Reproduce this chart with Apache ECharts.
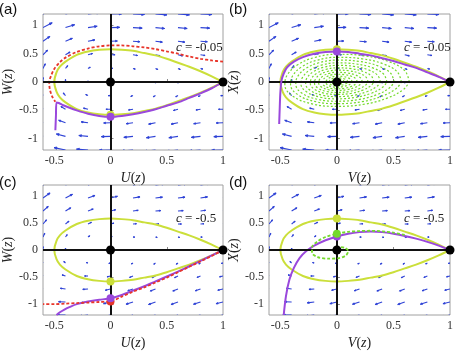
<!DOCTYPE html>
<html>
<head>
<meta charset="utf-8">
<title>Phase planes</title>
<script src="https://cdn.jsdelivr.net/npm/echarts@6/dist/echarts.min.js"></script>
<style>
    html, body { margin: 0; background: #fff; }
    #main { width: 474px; height: 351px; }
</style>
</head>
<body>
<div id="main"></div>
<script type="text/javascript">
// quiver grid (columns / rows) and the vertical component read per grid point
var qU = [-0.6, -0.4, -0.2, 0, 0.2, 0.4, 0.6, 0.8, 1.0];
var qW = [1.2, 0.96, 0.72, 0.48, 0.24, 0, -0.24, -0.48, -0.72, -0.96, -1.2];
// c = -0.05 field (panels a, b)
var flowSmall = [
    [1.02, 0.62, 0.30, 0.06, -0.10, -0.18, -0.18, -0.10, 0.06],
    [1.01, 0.61, 0.29, 0.05, -0.11, -0.19, -0.19, -0.11, 0.05],
    [1.00, 0.60, 0.28, 0.04, -0.12, -0.20, -0.20, -0.12, 0.04],
    [0.98, 0.58, 0.26, 0.02, -0.14, -0.22, -0.22, -0.14, 0.02],
    [0.97, 0.57, 0.25, 0.01, -0.15, -0.23, -0.23, -0.15, 0.01],
    [0.96, 0.56, 0.24, 0.00, -0.16, -0.24, -0.24, -0.16, 0.00],
    [0.95, 0.55, 0.23, -0.01, -0.17, -0.25, -0.25, -0.17, -0.01],
    [0.94, 0.54, 0.22, -0.02, -0.18, -0.26, -0.26, -0.18, -0.02],
    [0.92, 0.52, 0.20, -0.04, -0.20, -0.28, -0.28, -0.20, -0.04],
    [0.91, 0.51, 0.19, -0.05, -0.21, -0.29, -0.29, -0.21, -0.05],
    [0.90, 0.50, 0.18, -0.06, -0.22, -0.30, -0.30, -0.22, -0.06]
];
// c = -0.5 field (panels c, d)
var flowLarge = [
    [1.56, 1.16, 0.84, 0.60, 0.44, 0.36, 0.36, 0.44, 0.60],
    [1.44, 1.04, 0.72, 0.48, 0.32, 0.24, 0.24, 0.32, 0.48],
    [1.32, 0.92, 0.60, 0.36, 0.20, 0.12, 0.12, 0.20, 0.36],
    [1.20, 0.80, 0.48, 0.24, 0.08, 0.00, 0.00, 0.08, 0.24],
    [1.08, 0.68, 0.36, 0.12, -0.04, -0.12, -0.12, -0.04, 0.12],
    [0.96, 0.56, 0.24, 0.00, -0.16, -0.24, -0.24, -0.16, 0.00],
    [0.84, 0.44, 0.12, -0.12, -0.28, -0.36, -0.36, -0.28, -0.12],
    [0.72, 0.32, 0.00, -0.24, -0.40, -0.48, -0.48, -0.40, -0.24],
    [0.60, 0.20, -0.12, -0.36, -0.52, -0.60, -0.60, -0.52, -0.36],
    [0.48, 0.08, -0.24, -0.48, -0.64, -0.72, -0.72, -0.64, -0.48],
    [0.36, -0.04, -0.36, -0.60, -0.76, -0.84, -0.84, -0.76, -0.60]
];

// yellow closed loop (same in every panel)
var loopU = [1, 0.9, 0.8, 0.7, 0.6, 0.5, 0.4, 0.3, 0.2, 0.1, 0, -0.1, -0.2, -0.3, -0.4, -0.45, -0.48, -0.5,
             -0.48, -0.45, -0.4, -0.3, -0.2, -0.1, 0, 0.1, 0.2, 0.3, 0.4, 0.5, 0.6, 0.7, 0.8, 0.9, 1];
var loopW = [0, 0.1, 0.19, 0.27, 0.34, 0.41, 0.47, 0.51, 0.55, 0.57, 0.58, 0.57, 0.54, 0.48, 0.36, 0.27, 0.17, 0,
             -0.17, -0.27, -0.36, -0.48, -0.54, -0.57, -0.58, -0.57, -0.55, -0.51, -0.47, -0.41, -0.34, -0.27, -0.19, -0.1, 0];

// panel (a)
var redAU = [1.0, 0.9, 0.8, 0.7, 0.6, 0.5, 0.4, 0.3, 0.2, 0.1, 0, -0.1, -0.2, -0.3, -0.4, -0.45, -0.5, -0.53, -0.545, -0.54, -0.52, -0.49];
var redAW = [0.36, 0.38, 0.41, 0.45, 0.5, 0.54, 0.58, 0.61, 0.63, 0.645, 0.645, 0.63, 0.59, 0.53, 0.43, 0.35, 0.23, 0.1, 0, -0.12, -0.25, -0.35];
var purAU = [1.0, 0.9, 0.8, 0.7, 0.6, 0.5, 0.4, 0.3, 0.2, 0.1, 0, -0.1, -0.2, -0.3, -0.37, -0.42, -0.46, -0.48, -0.485, -0.49];
var purAW = [0, -0.11, -0.2, -0.28, -0.36, -0.42, -0.48, -0.53, -0.57, -0.6, -0.615, -0.6, -0.56, -0.5, -0.45, -0.41, -0.37, -0.36, -0.6, -0.85];

// panel (b)
var purBV = [1, 0.9, 0.8, 0.7, 0.6, 0.5, 0.4, 0.3, 0.2, 0.1, 0, -0.1, -0.2, -0.3, -0.38, -0.44, -0.47, -0.49, -0.5, -0.505, -0.51];
var purBX = [0, 0.09, 0.17, 0.25, 0.31, 0.37, 0.42, 0.47, 0.5, 0.53, 0.54, 0.53, 0.5, 0.44, 0.36, 0.26, 0.15, 0.02, -0.2, -0.45, -0.74];
var spiralV = [0.64, 0.6, 0.46, 0.25, 0, -0.2, -0.35, -0.44, -0.46, -0.39, -0.21, 0, 0.25, 0.45, 0.59, 0.64];
var spiralX = [0, 0.2, 0.36, 0.46, 0.49, 0.43, 0.3, 0.12, -0.05, -0.25, -0.39, -0.43, -0.39, -0.28, -0.13, 0];
var spiralTurns = [1, 0.89, 0.79, 0.69, 0.6, 0.51, 0.43, 0.35, 0.28, 0.21, 0.15, 0.1, 0.06];

// panel (c)
var redCU = [1, 0.9, 0.8, 0.7, 0.6, 0.5, 0.4, 0.3, 0.2, 0.1, 0, -0.1, -0.2, -0.3, -0.4, -0.5, -0.6];
var redCW = [0, -0.11, -0.21, -0.31, -0.41, -0.51, -0.6, -0.69, -0.77, -0.86, -0.95, -0.96, -0.97, -0.98, -0.99, -1.0, -1.0];
var purCU = [1, 0.9, 0.8, 0.7, 0.6, 0.5, 0.4, 0.3, 0.2, 0.1, 0, -0.1, -0.2, -0.3, -0.36, -0.41, -0.45, -0.48];
var purCW = [0, -0.1, -0.2, -0.3, -0.4, -0.49, -0.58, -0.67, -0.75, -0.83, -0.89, -0.92, -0.95, -1.0, -1.05, -1.1, -1.15, -1.2];

// panel (d)
var purDV = [1, 0.9, 0.8, 0.7, 0.6, 0.5, 0.4, 0.3, 0.2, 0.1, 0, -0.1, -0.2, -0.27, -0.33, -0.38, -0.42, -0.45, -0.47];
var purDX = [0, 0.08, 0.15, 0.21, 0.26, 0.3, 0.33, 0.34, 0.33, 0.3, 0.25, 0.18, 0.08, -0.02, -0.15, -0.33, -0.55, -0.85, -1.2];
var grnDV = [0.6, 0.5, 0.4, 0.3, 0.2, 0.1, 0, -0.1, -0.17, -0.22, -0.22, -0.17, -0.08, 0.02, 0.08, 0.1, 0.07, 0.01];
var grnDX = [0.28, 0.32, 0.345, 0.355, 0.35, 0.335, 0.3, 0.24, 0.16, 0.05, -0.05, -0.13, -0.16, -0.15, -0.1, -0.02, 0.04, 0.06];

// fixed points and marked points per panel
var eqU = [0, 1], eqW = [0, 0];
var dotA = {yellow: [0, -0.58], purple: [0, -0.615]};
var dotB = {yellow: [0, 0.58], purple: [0, 0.54]};
var dotC = {yellow: [0, -0.58], purple: [0, -0.89], red: [0, -0.95]};
var dotD = {yellow: [0, 0.58], green: [0, 0.3], purple: [0, 0.25]};

var cLabels = ['-0.05', '-0.05', '-0.5', '-0.5'];
var panelTags = ['(a)', '(b)', '(c)', '(d)'];
var xNames = ['U', 'V', 'U', 'V'];
var yNames = ['W', 'X', 'W', 'X'];

var BLUE = '#2f43d6', YELLOW = '#cbdf3a', PURPLE = '#9a48dc', RED = '#e8352a', GREEN = '#74da2c';
var SERIF = '"Liberation Serif", "DejaVu Serif", serif';

function zip(a, b) {
    var out = [];
    for (var i = 0; i < a.length; i++) out.push([a[i], b[i]]);
    return out;
}
function quiverData(field) {
    var d = [];
    for (var i = 0; i < qW.length; i++) {
        for (var j = 0; j < qU.length; j++) {
            d.push([qU[j], qW[i], qW[i], field[i][j]]);
        }
    }
    return d;
}
function arrowRenderer(scale) {
    return function (params, api) {
        var x = api.value(0), y = api.value(1);
        var p0 = api.coord([x, y]);
        var p1 = api.coord([x + scale * api.value(2), y + scale * api.value(3)]);
        var dx = p1[0] - p0[0], dy = p1[1] - p0[1];
        var len = Math.sqrt(dx * dx + dy * dy);
        if (len < 0.8) {
            return {type: 'circle', shape: {cx: p0[0], cy: p0[1], r: 0.5}, style: {fill: BLUE}};
        }
        var ang = Math.atan2(dy, dx), h = Math.min(3, Math.max(1.2, len * 0.3));
        var a1 = ang + Math.PI - 0.4, a2 = ang + Math.PI + 0.4;
        return {
            type: 'group',
            children: [
                {type: 'line', shape: {x1: p0[0], y1: p0[1], x2: p1[0], y2: p1[1]},
                 style: {stroke: BLUE, lineWidth: 1.1}},
                {type: 'polygon', shape: {points: [
                    [p1[0] + h * Math.cos(a1), p1[1] + h * Math.sin(a1)], p1,
                    [p1[0] + h * Math.cos(a2), p1[1] + h * Math.sin(a2)]]},
                 style: {stroke: BLUE, fill: BLUE, lineWidth: 0.8}}
            ]
        };
    };
}

var gridPos = [
    {left: 41, top: 14, width: 182, height: 136},
    {left: 269, top: 14, width: 181, height: 136},
    {left: 41, top: 185, width: 182, height: 136},
    {left: 269, top: 185, width: 181, height: 136}
];

var grids = [], xAxes = [], yAxes = [], series = [], graphics = [];
var nameRich = {
    it: {fontFamily: SERIF, fontStyle: 'italic', fontSize: 14, color: '#222'},
    up: {fontFamily: SERIF, fontSize: 14, color: '#222'}
};

for (var k = 0; k < 4; k++) {
    var g = gridPos[k];
    grids.push({left: g.left, top: g.top, width: g.width, height: g.height,
                show: true, borderColor: '#a0a0a0', borderWidth: 1, backgroundColor: '#fff'});
    xAxes.push({
        gridIndex: k, type: 'value', min: -0.6, max: 1,
        name: '{it|' + xNames[k] + '}{up|(}{it|z}{up|)}', nameLocation: 'middle', nameGap: 21,
        nameTextStyle: {rich: nameRich},
        axisLine: {show: false},
        axisTick: {show: true, inside: true, length: 3, customValues: [-0.5, 0, 0.5, 1], lineStyle: {color: '#888'}},
        axisLabel: {customValues: [-0.5, 0, 0.5, 1], fontFamily: SERIF, fontSize: 12, color: '#333', margin: 5},
        splitLine: {show: false}
    });
    yAxes.push({
        gridIndex: k, type: 'value', min: -1.2, max: 1.2,
        name: '{it|' + yNames[k] + '}{up|(}{it|z}{up|)}', nameLocation: 'middle', nameGap: 28, nameRotate: 90,
        nameTextStyle: {rich: nameRich},
        axisLine: {show: false},
        axisTick: {show: true, inside: true, length: 3, customValues: [-1, -0.5, 0, 0.5, 1], lineStyle: {color: '#888'}},
        axisLabel: {customValues: [-1, -0.5, 0, 0.5, 1], fontFamily: SERIF, fontSize: 12, color: '#333', margin: 5},
        splitLine: {show: false}
    });

    // vector field
    series.push({
        type: 'custom', xAxisIndex: k, yAxisIndex: k, z: 1, clip: true, silent: true,
        renderItem: arrowRenderer(k < 2 ? 0.085 : 0.065),
        encode: {x: 0, y: 1},
        data: quiverData(k < 2 ? flowSmall : flowLarge)
    });
    // black zero axes
    series.push({
        type: 'line', xAxisIndex: k, yAxisIndex: k, z: 2, data: [],
        markLine: {
            silent: true, symbol: 'none', animation: false, label: {show: false},
            lineStyle: {color: '#111', width: 2, type: 'solid'},
            data: [{yAxis: 0}, {xAxis: 0}]
        }
    });
    // yellow loop
    series.push({
        type: 'line', xAxisIndex: k, yAxisIndex: k, z: 3, data: zip(loopU, loopW),
        showSymbol: false, smooth: 0.3, lineStyle: {color: YELLOW, width: 2}
    });

    graphics.push({
        type: 'text', left: k % 2 === 0 ? -1 : 229, top: k < 2 ? 2 : 175,
        style: {text: panelTags[k], font: '15px "Liberation Sans", Arial, sans-serif', fill: '#111'}
    });
    graphics.push({
        type: 'text', left: k % 2 === 0 ? 176 : 404, top: k < 2 ? 41 : 212,
        style: {
            text: '{i|c}{n| = ' + cLabels[k] + '}',
            rich: {
                i: {fontFamily: SERIF, fontStyle: 'italic', fontSize: 13, fill: '#222', lineHeight: 14},
                n: {fontFamily: SERIF, fontSize: 13, fill: '#222', lineHeight: 14}
            }
        }
    });
}

function curve(k, u, w, color, dashed, z) {
    return {
        type: 'line', xAxisIndex: k, yAxisIndex: k, z: z || 4, data: zip(u, w),
        showSymbol: false, smooth: 0.3,
        lineStyle: {color: color, width: dashed ? 1.8 : 2, type: dashed ? [3, 2] : 'solid'}
    };
}
function dot(k, pt, color, size) {
    return {
        type: 'scatter', xAxisIndex: k, yAxisIndex: k, z: 6, data: [pt],
        symbolSize: size || 8, itemStyle: {color: color, opacity: 1}
    };
}

// (a)
series.push(curve(0, redAU, redAW, RED, true));
series.push(curve(0, purAU, purAW, PURPLE, false, 5));
series.push(dot(0, dotA.yellow, YELLOW), dot(0, dotA.purple, PURPLE));
// (b)
for (var t = 0; t < spiralTurns.length; t++) {
    var sv = [], sx = [];
    for (var p = 0; p < spiralV.length; p++) {
        sv.push(spiralV[p] * spiralTurns[t]);
        sx.push(spiralX[p] * spiralTurns[t]);
    }
    series.push({
        type: 'line', xAxisIndex: 1, yAxisIndex: 1, z: 3, data: zip(sv, sx),
        showSymbol: false, smooth: 0.4,
        lineStyle: {color: GREEN, width: 1.2, type: [2, 2]}
    });
}
series.push(curve(1, purBV, purBX, PURPLE, false, 5));
series.push(dot(1, dotB.yellow, YELLOW), dot(1, dotB.purple, PURPLE));
// (c)
series.push(curve(2, purCU, purCW, PURPLE, false, 4));
series.push(curve(2, redCU, redCW, RED, true, 5));
series.push(dot(2, dotC.yellow, YELLOW), dot(2, dotC.red, RED), dot(2, dotC.purple, PURPLE));
// (d)
series.push(curve(3, purDV, purDX, PURPLE, false, 4));
series.push(curve(3, grnDV, grnDX, GREEN, true, 5));
series.push(dot(3, dotD.yellow, YELLOW), dot(3, dotD.purple, PURPLE), dot(3, dotD.green, GREEN));

// equilibria in every panel
for (var m = 0; m < 4; m++) {
    series.push({
        type: 'scatter', xAxisIndex: m, yAxisIndex: m, z: 7, data: zip(eqU, eqW),
        symbolSize: 9, itemStyle: {color: '#000', opacity: 1}
    });
}

var myChart = echarts.init(document.getElementById('main'));
myChart.setOption({
    animation: false,
    grid: grids,
    xAxis: xAxes,
    yAxis: yAxes,
    series: series,
    graphic: graphics
});
</script>
</body>
</html>
